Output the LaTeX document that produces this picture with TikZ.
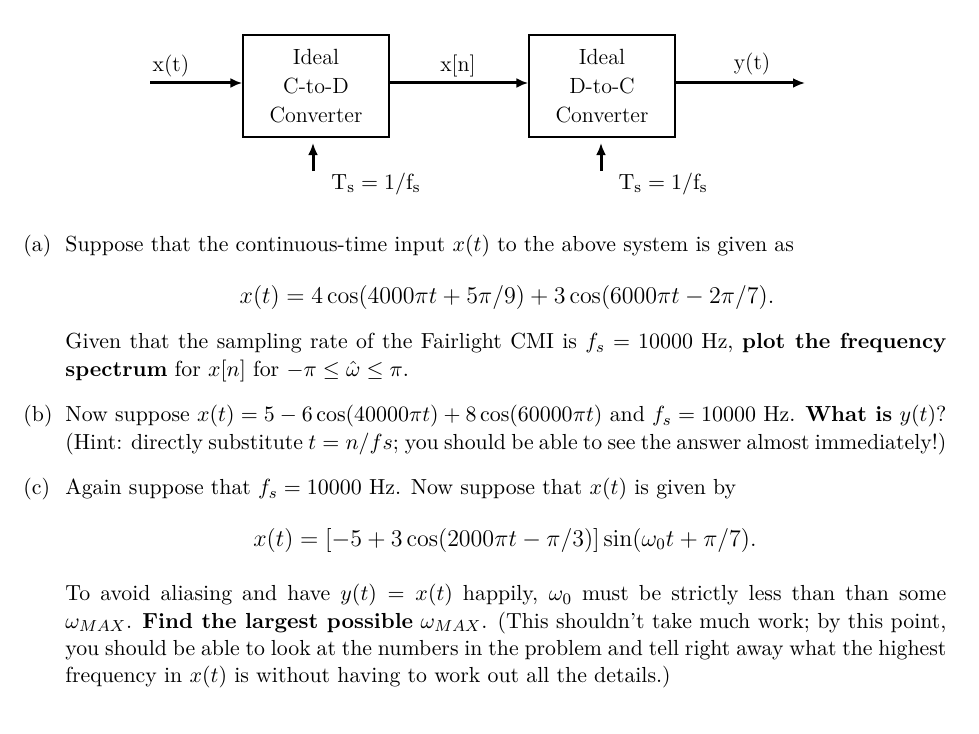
\documentclass[tikz,border=0pt]{standalone}
\usepackage{amsmath}
\usetikzlibrary{arrows.meta}
\begin{document}
\begin{tikzpicture}[x=0.5pt,y=-0.5pt,
  blk/.style={draw,line width=0.7pt,minimum width=73pt,minimum height=51pt,align=center,font=\fontsize{11}{14.5}\selectfont},
  sig/.style={-{Latex[length=6pt,width=5pt]},line width=1.5pt},
  lbl/.style={font=\fontsize{11}{14}\selectfont},
  par/.style={anchor=north west,text width=440.5pt,align=justify,inner sep=0pt,font=\fontsize{10.9}{13.65}\selectfont},
  tag/.style={anchor=north west,inner sep=0pt,font=\fontsize{10.9}{13.65}\selectfont},
  eq/.style={inner sep=0pt,font=\fontsize{11.5}{13.65}\selectfont}]
\useasboundingbox (0,0) rectangle (979,733);
\node[blk] (cd) at (316,86) {Ideal\\C-to-D\\Converter};
\node[blk] (dc) at (602,86) {Ideal\\D-to-C\\Converter};
\coordinate (in) at (150,83);
\coordinate (out) at (805,83);
\draw[sig] (in) -- (cd.west|-in);
\draw[sig] (cd.east|-in) -- (dc.west|-in);
\draw[sig] (dc.east|-in) -- (out);
\node[lbl] (lx) at (171,66) {x(t)};
\node[lbl] (ln) at (458,66) {x[n]};
\node[lbl] (ly) at (752,64) {y(t)};
\coordinate (t1) at (313,171);
\coordinate (t2) at (601,171);
\coordinate (h1) at (313,143);
\coordinate (h2) at (601,143);
\draw[sig] (t1) -- (h1);
\draw[sig] (t2) -- (h2);
\node[lbl] (s1) at (376,184) {$\mathrm{T_s} = 1/\mathrm{f_s}$};
\node[lbl] (s2) at (663,184) {$\mathrm{T_s} = 1/\mathrm{f_s}$};
\node[tag] (ta) at (23,235) {(a)};
\node[par] (pa) at (65,235) {Suppose that the continuous-time input $x(t)$ to the above system is given as};
\node[eq] (ea) at (507,297) {$x(t) = 4\cos(4000\pi t + 5\pi/9) + 3\cos(6000\pi t - 2\pi/7).$};
\node[par] (pa2) at (65,333) {Given that the sampling rate of the Fairlight CMI is $f_s = 10000$ Hz, \textbf{plot the frequency spectrum} for $x[n]$ for $-\pi \le \hat{\omega} \le \pi$.};
\node[tag] (tb) at (23,405) {(b)};
\node[par] (pb) at (65,405) {Now suppose $x(t) = 5 - 6\cos(40000\pi t) + 8\cos(60000\pi t)$ and $f_s = 10000$ Hz. \textbf{What is} $y(t)$? (Hint: directly substitute $t=n/fs$; you should be able to see the answer almost immediately!)};
\node[tag] (tc) at (23,478) {(c)};
\node[par] (pc) at (65,478) {Again suppose that $f_s = 10000$ Hz. Now suppose that $x(t)$ is given by};
\node[eq] (ec) at (505,540) {$x(t) = [-5 + 3\cos(2000\pi t - \pi/3)]\sin(\omega_0 t + \pi/7).$};
\node[par] (pc2) at (65,584) {To avoid aliasing and have $y(t) = x(t)$ happily, $\omega_0$ must be strictly less than than some $\omega_{MAX}$. \textbf{Find the largest possible} $\omega_{MAX}$. (This shouldn't take much work; by this point, you should be able to look at the numbers in the problem and tell right away what the highest frequency in $x(t)$ is without having to work out all the details.)};
\end{tikzpicture}
\end{document}
